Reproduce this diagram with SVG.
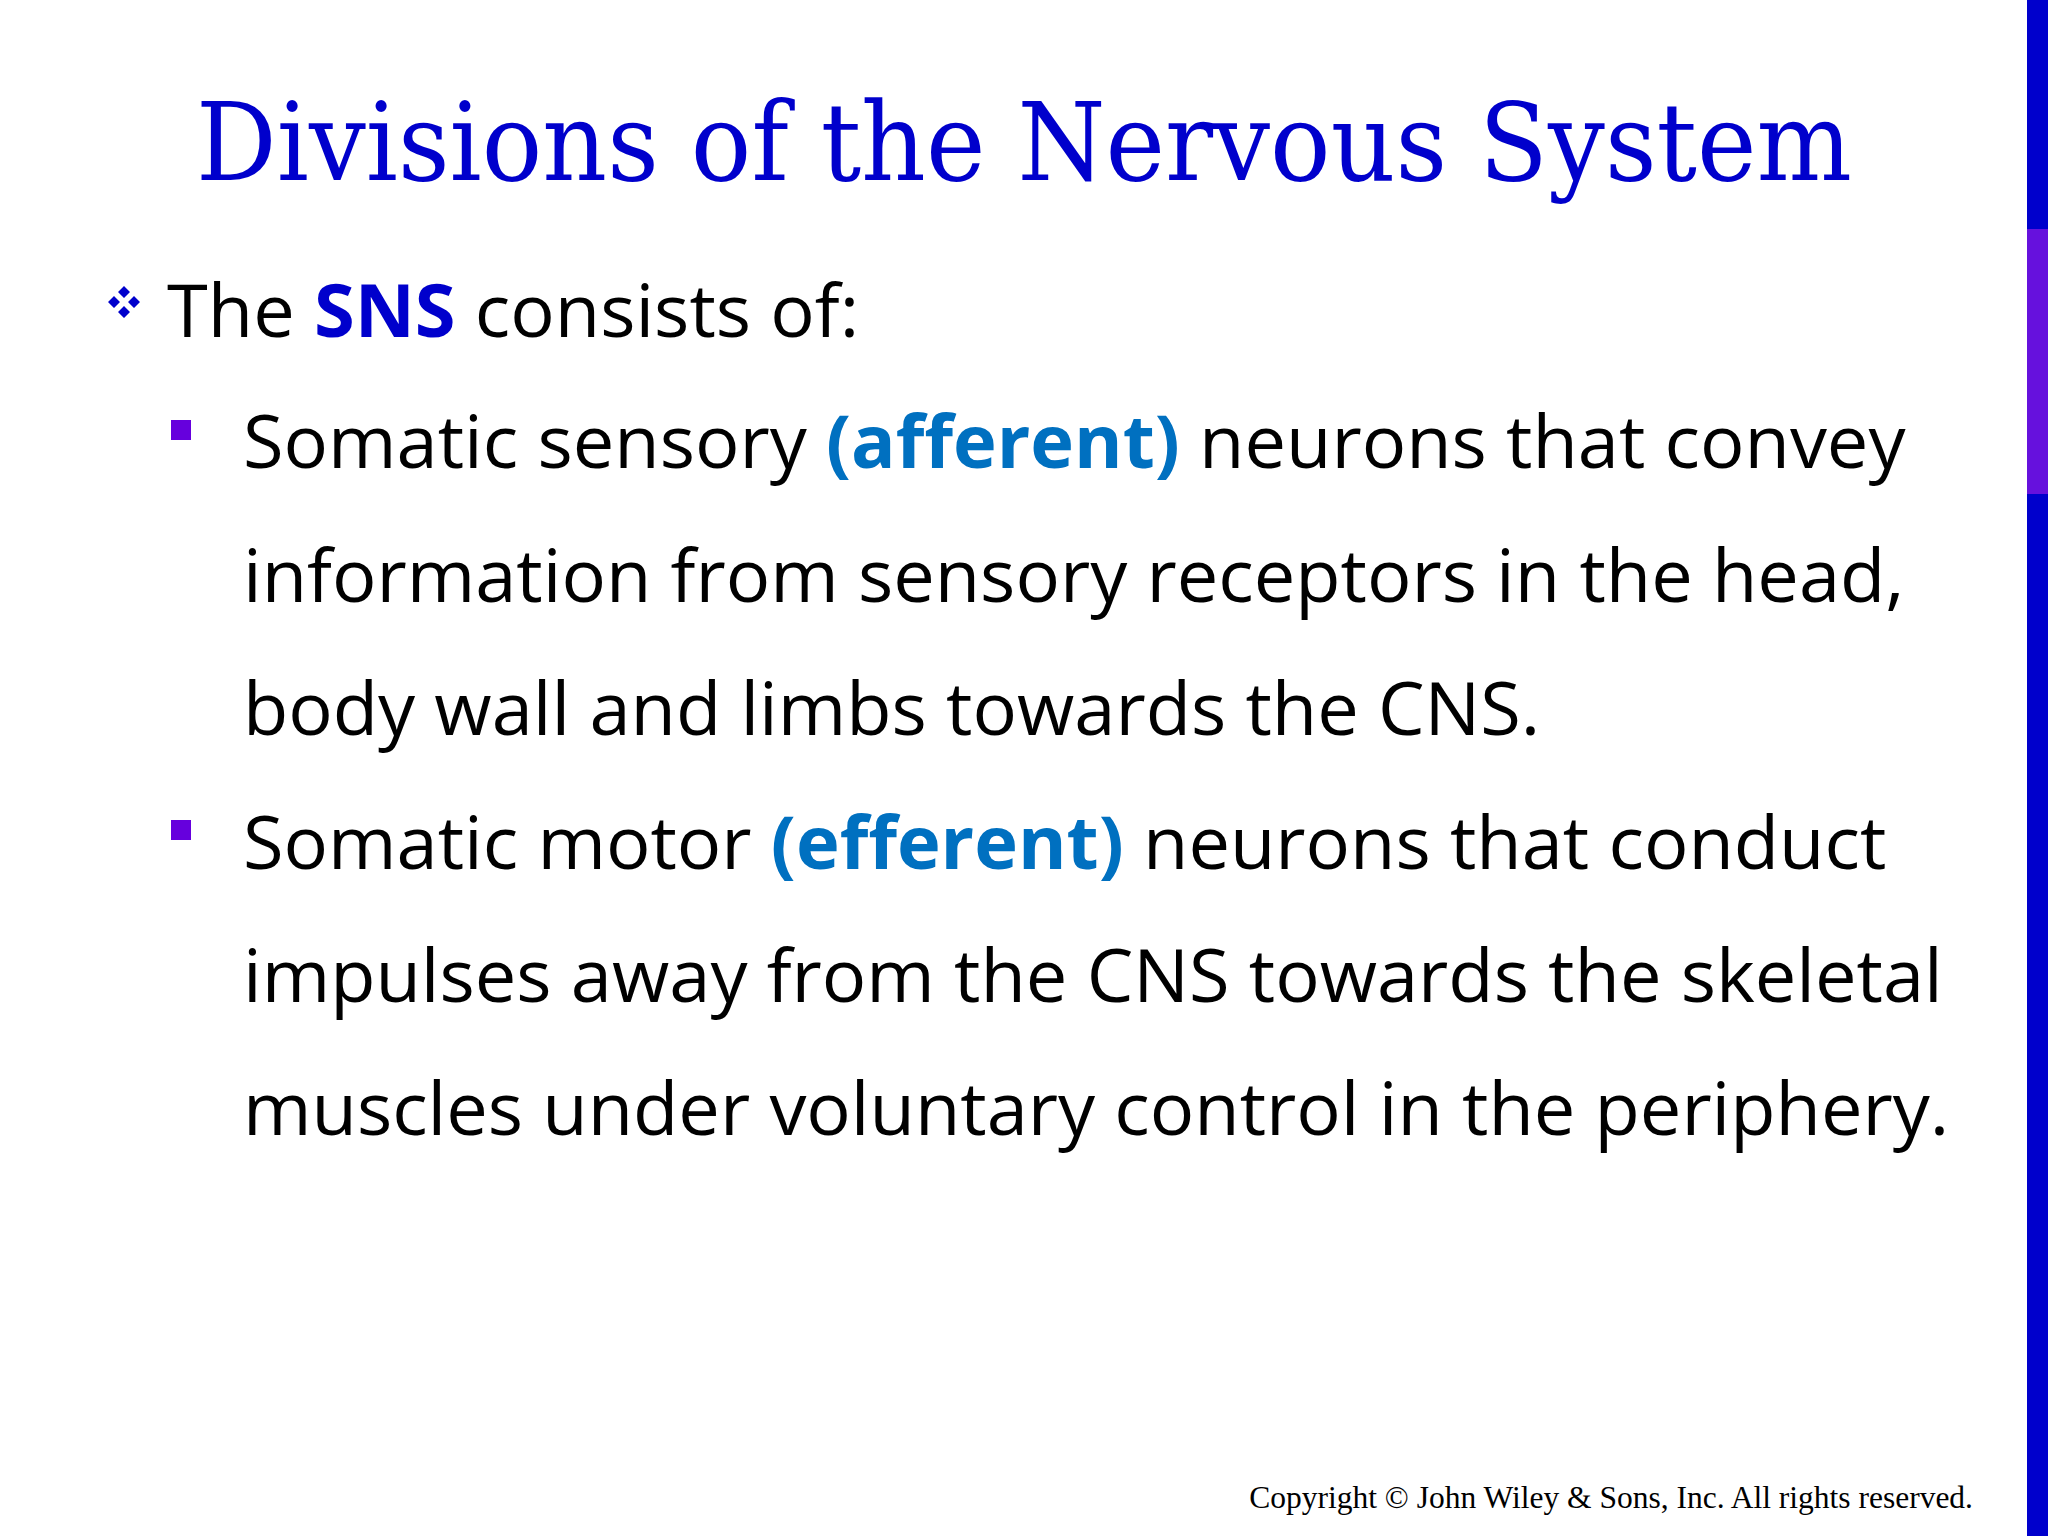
<svg xmlns="http://www.w3.org/2000/svg" width="2048" height="1536" viewBox="0 0 2048 1536">
<style>
.t{font-family:"Open Sans","Noto Sans",sans-serif;font-size:74px;fill:#000}
.b{font-weight:bold;fill:#0070C0}
.sq{fill:#6600DD}
</style>
<rect width="2048" height="1536" fill="#fff"/>
<rect x="2027" y="0" width="21" height="1536" fill="#0000CC"/>
<rect x="2027" y="229" width="21" height="265" fill="#6611DD"/>
<g id="title"><text x="1024" y="180" text-anchor="middle" font-family="DejaVu Serif,serif" font-size="108" fill="#0000CC" textLength="1656" lengthAdjust="spacingAndGlyphs">Divisions of the Nervous System</text></g>
<g id="bullet1">
<g fill="#0000CC" transform="translate(124,302)"><path d="M0,-16 L6,-10 L0,-4 L-6,-10Z M0,16 L6,10 L0,4 L-6,10Z M-16,0 L-10,-6 L-4,0 L-10,6Z M16,0 L10,-6 L4,0 L10,6Z"/></g>
<text class="t" x="167" y="337">The <tspan font-weight="bold" fill="#0000CC">SNS</tspan> consists of:</text>
</g>
<g id="sub1">
<rect class="sq" x="171" y="420" width="20" height="20"/>
<text class="t" x="243" y="468">Somatic sensory <tspan class="b">(afferent)</tspan> neurons that convey</text>
<text class="t" x="243" y="602">information from sensory receptors in the head,</text>
<text class="t" x="243" y="735">body wall and limbs towards the CNS.</text>
</g>
<g id="sub2">
<rect class="sq" x="171" y="820" width="20" height="20"/>
<text class="t" x="243" y="869">Somatic motor <tspan class="b">(efferent)</tspan> neurons that conduct</text>
<text class="t" x="243" y="1002">impulses away from the CNS towards the skeletal</text>
<text class="t" x="243" y="1135">muscles under voluntary control in the periphery.</text>
</g>
<text x="1973" y="1508" text-anchor="end" font-family="Liberation Serif,serif" font-size="31.5" fill="#000">Copyright © John Wiley &amp; Sons, Inc. All rights reserved.</text>
</svg>
